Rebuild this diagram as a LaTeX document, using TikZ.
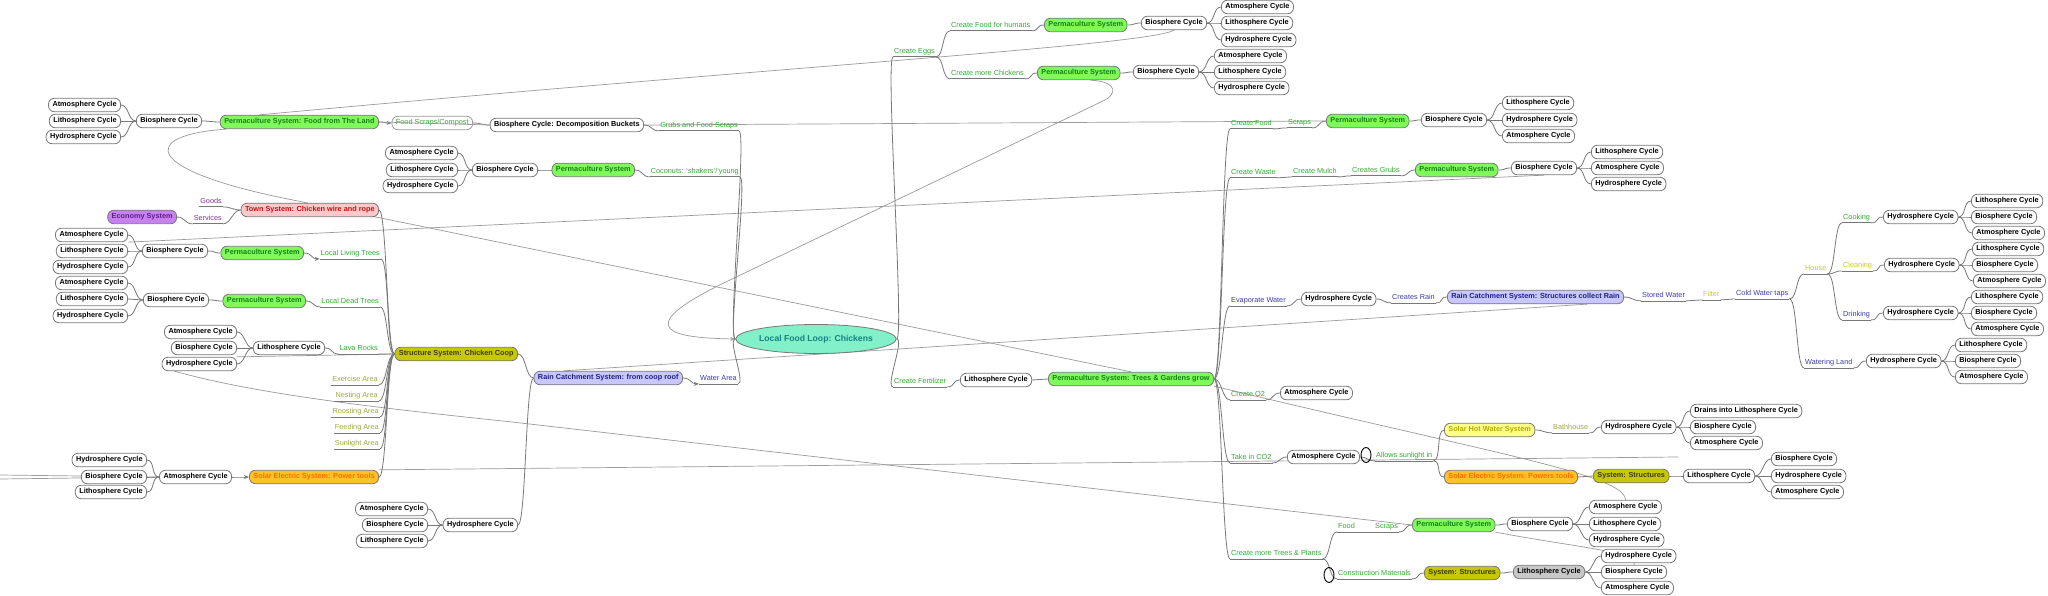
\documentclass[tikz,border=0pt]{standalone}
\usepackage{fontspec}
\setmainfont{Liberation Sans}
\usetikzlibrary{calc,arrows.meta,shapes.geometric}
\pgfdeclarelayer{back}
\pgfdeclarelayer{edges}
\pgfsetlayers{back,edges,main}
\definecolor{edgec}{RGB}{120,120,120}
\definecolor{linkc}{RGB}{155,155,155}
\definecolor{gtext}{RGB}{50,170,50}
\definecolor{btext}{RGB}{60,60,170}
\definecolor{ytext}{RGB}{200,200,40}
\definecolor{otext}{RGB}{160,170,60}
\definecolor{ptext}{RGB}{130,50,150}
\definecolor{permfill}{RGB}{128,250,90}
\definecolor{permtext}{RGB}{20,130,20}
\definecolor{rainfill}{RGB}{200,200,255}
\definecolor{raintext}{RGB}{30,30,140}
\definecolor{econfill}{RGB}{200,130,240}
\definecolor{econtext}{RGB}{100,30,140}
\definecolor{townfill}{RGB}{255,200,200}
\definecolor{towntext}{RGB}{190,20,20}
\definecolor{structfill}{RGB}{200,200,0}
\definecolor{structtext}{RGB}{60,60,0}
\definecolor{solarfill}{RGB}{255,195,40}
\definecolor{solartext}{RGB}{255,110,0}
\definecolor{hotfill}{RGB}{255,255,140}
\definecolor{hottext}{RGB}{180,170,0}
\definecolor{cfill}{RGB}{130,240,200}
\definecolor{ctext}{RGB}{20,130,130}
\definecolor{greyfill}{RGB}{200,200,200}
\newcommand\fsz{\fontsize{7.3}{8.5}\selectfont}
\tikzset{
  box/.style={draw=edgec, fill=white, line width=0.8pt, rounded corners=6pt,
    font=\bfseries\fsz, text=black, inner xsep=4pt, inner ysep=2pt,
    text height=5.4pt, text depth=1.6pt, minimum height=13.5pt},
  perm/.style={box, fill=permfill, text=permtext},
  rain/.style={box, fill=rainfill, text=raintext},
  econ/.style={box, fill=econfill, text=econtext},
  townbox/.style={box, fill=townfill, text=towntext},
  struct/.style={box, fill=structfill, text=structtext},
  solar/.style={box, fill=solarfill, text=solartext},
  hot/.style={box, fill=hotfill, text=hottext},
  greybox/.style={box, fill=greyfill},
  con/.style={draw=edgec, line width=0.8pt},
  xl/.style={draw=linkc, line width=0.7pt},
  lab/.style={font=\fsz, inner xsep=1pt, inner ysep=1.2pt, text height=5.4pt, text depth=1.6pt,
    append after command={(\tikzlastnode.south west) edge[con] (\tikzlastnode.south east)}},
  lgn/.style={lab, text=gtext},
  lbl/.style={lab, text=btext},
  lyl/.style={lab, text=ytext},
  lol/.style={lab, text=otext},
  lpl/.style={lab, text=ptext},
  tor/.style={to path={.. controls +(8,0) and +(-8,0) .. (\tikztotarget)}},
  tol/.style={to path={.. controls +(-8,0) and +(8,0) .. (\tikztotarget)}},
  marker/.style={draw=black, line width=0.9pt, ellipse, minimum width=10pt, minimum height=15pt, inner sep=0pt},
  tip/.style={-{Stealth[length=5pt,width=4pt]}},
  pit/.style={{Stealth[length=5pt,width=4pt]}-},
}
\begin{document}
\begin{tikzpicture}[x=1pt,y=-1pt]
\begin{pgfonlayer}{back}
\fill[white] (0,0) rectangle (2048,596);
\end{pgfonlayer}
\useasboundingbox (0,0) rectangle (2048,596);

% ---------- center ----------
\node[ellipse, draw=edgec, line width=0.8pt, fill=cfill, text=ctext,
  font=\bfseries\fontsize{8.6}{10}\selectfont, minimum width=126pt, minimum height=29pt, inner sep=0pt]
  (c) at (816,339) {Local Food Loop: Chickens};

% ---------- right: eggs ----------
\node[lgn, anchor=west] (eggs) at (893,52) {Create Eggs};
\node[lgn, anchor=west] (foodh) at (950,26) {Create Food for humans};
\node[lgn, anchor=west] (morech) at (950,74) {Create more Chickens};
\node[perm, anchor=west] (p1) at (1044,25) {Permaculture System};
\node[box, anchor=west] (b1) at (1141,23) {Biosphere Cycle};
\node[box, anchor=west] (a1) at (1221,7) {Atmosphere Cycle};
\node[box, anchor=west] (l1) at (1221,23) {Lithosphere Cycle};
\node[box, anchor=west] (h1) at (1221,40) {Hydrosphere Cycle};
\node[perm, anchor=west] (p2) at (1037,73) {Permaculture System};
\node[box, anchor=west] (b2) at (1133,72) {Biosphere Cycle};
\node[box, anchor=west] (a2) at (1214,56) {Atmosphere Cycle};
\node[box, anchor=west] (l2) at (1214,72) {Lithosphere Cycle};
\node[box, anchor=west] (h2) at (1214,88) {Hydrosphere Cycle};

% ---------- right: fertilizer ----------
\node[lgn, anchor=west] (fert) at (893,382) {Create Fertilizer};
\node[box, anchor=west] (lc3) at (960,380) {Lithosphere Cycle};
\node[perm, anchor=west] (tg) at (1048,379) {Permaculture System: Trees \& Gardens grow};

\node[lgn, anchor=west] (cfood) at (1230,124) {Create Food};
\node[lgn, anchor=west] (scraps) at (1287,123) {Scraps};
\node[perm, anchor=west] (p3) at (1326,121) {Permaculture System};
\node[box, anchor=west] (b3) at (1421,120) {Biosphere Cycle};
\node[box, anchor=west] (l3) at (1502,103) {Lithosphere Cycle};
\node[box, anchor=west] (hy3) at (1502,120) {Hydrosphere Cycle};
\node[box, anchor=west] (a3) at (1502,136) {Atmosphere Cycle};

\node[lgn, anchor=west] (cwaste) at (1230,173) {Create Waste};
\node[lgn, anchor=west] (cmulch) at (1292,172) {Create Mulch};
\node[lgn, anchor=west] (cgrubs) at (1351,171) {Creates Grubs};
\node[perm, anchor=west] (p4) at (1415,170) {Permaculture System};
\node[box, anchor=west] (b4) at (1511,168) {Biosphere Cycle};
\node[box, anchor=west] (l4) at (1591,152) {Lithosphere Cycle};
\node[box, anchor=west] (a4) at (1591,168) {Atmosphere Cycle};
\node[box, anchor=west] (h4) at (1591,184) {Hydrosphere Cycle};

\node[lbl, anchor=west] (evap) at (1230,301) {Evaporate Water};
\node[box, anchor=west] (hc5) at (1301,299) {Hydrosphere Cycle};
\node[lbl, anchor=west] (crain) at (1391,298) {Creates Rain};
\node[rain, anchor=west] (rcs) at (1447,297) {Rain Catchment System: Structures collect Rain};
\node[lbl, anchor=west] (stored) at (1641,296) {Stored Water};
\node[lyl, anchor=west] (filter) at (1702,295) {Filter};
\node[lbl, anchor=west] (cold) at (1735,294) {Cold Water taps};
\node[lyl, anchor=west] (house) at (1804,269) {House};
\node[lgn, anchor=west] (cook) at (1842,218) {Cooking};
\node[lyl, anchor=west] (clean) at (1842,266) {Cleaning};
\node[lbl, anchor=west] (drink) at (1842,315) {Drinking};
\node[lbl, anchor=west] (water) at (1804,363) {Watering Land};
\node[box, anchor=west] (hk) at (1883,217) {Hydrosphere Cycle};
\node[box, anchor=west] (lk) at (1971,201) {Lithosphere Cycle};
\node[box, anchor=west] (bk) at (1971,217) {Biosphere Cycle};
\node[box, anchor=west] (ak) at (1972,233) {Atmosphere Cycle};
\node[box, anchor=west] (hcl) at (1884,265) {Hydrosphere Cycle};
\node[box, anchor=west] (lcl2) at (1972,249) {Lithosphere Cycle};
\node[box, anchor=west] (bcl) at (1972,265) {Biosphere Cycle};
\node[box, anchor=west] (acl) at (1973,281) {Atmosphere Cycle};
\node[box, anchor=west] (hd) at (1883,313) {Hydrosphere Cycle};
\node[box, anchor=west] (ld) at (1971,297) {Lithosphere Cycle};
\node[box, anchor=west] (bd) at (1971,313) {Biosphere Cycle};
\node[box, anchor=west] (ad) at (1971,329) {Atmosphere Cycle};
\node[box, anchor=west] (hw) at (1866,361) {Hydrosphere Cycle};
\node[box, anchor=west] (lw) at (1955,345) {Lithosphere Cycle};
\node[box, anchor=west] (bw) at (1955,361) {Biosphere Cycle};
\node[box, anchor=west] (aw) at (1955,377) {Atmosphere Cycle};

\node[lgn, anchor=west] (co2) at (1230,395) {Create O2};
\node[box, anchor=west] (ac6) at (1280,393) {Atmosphere Cycle};

\node[lgn, anchor=west] (tco2) at (1230,458) {Take in CO2};
\node[box, anchor=west] (ac7) at (1287,457) {Atmosphere Cycle};
\node[marker] (m1) at (1366,455) {};
\node[lgn, anchor=west] (sun) at (1375,456) {Allows sunlight in};
\node[hot, anchor=west] (shw) at (1444,430) {Solar Hot Water System};
\node[lol, anchor=west] (bath) at (1552,428) {Bathhouse};
\node[box, anchor=west] (hb) at (1601,427) {Hydrosphere Cycle};
\node[box, anchor=west] (dl) at (1690,411) {Drains into Lithosphere Cycle};
\node[box, anchor=west] (bb) at (1690,427) {Biosphere Cycle};
\node[box, anchor=west] (ab) at (1690,443) {Atmosphere Cycle};
\node[solar, anchor=west] (ses2) at (1444,477) {Solar Electric System: Powers tools};
\node[struct, anchor=west] (ss1) at (1593,476) {System: Structures};
\node[box, anchor=west] (ls) at (1683,476) {Lithosphere Cycle};
\node[box, anchor=west] (bs) at (1771,459) {Biosphere Cycle};
\node[box, anchor=west] (hs) at (1771,476) {Hydrosphere Cycle};
\node[box, anchor=west] (asx) at (1771,492) {Atmosphere Cycle};

\node[lgn, anchor=west] (cmore) at (1230,554) {Create more Trees \& Plants};
\node[lgn, anchor=west] (food) at (1337,527) {Food};
\node[lgn, anchor=west] (scr2) at (1374,527) {Scraps};
\node[perm, anchor=west] (p5) at (1412,525) {Permaculture System};
\node[box, anchor=west] (b5) at (1507,524) {Biosphere Cycle};
\node[box, anchor=west] (a5) at (1589,507) {Atmosphere Cycle};
\node[box, anchor=west] (l5) at (1589,524) {Lithosphere Cycle};
\node[box, anchor=west] (h5) at (1589,540) {Hydrosphere Cycle};
\node[marker] (m2) at (1329,575) {};
\node[lgn, anchor=west] (constr) at (1337,574) {Construction Materials};
\node[struct, anchor=west] (ss2) at (1424,573) {System: Structures};
\node[greybox, anchor=west] (lgr) at (1513,572) {Lithosphere Cycle};
\node[box, anchor=west] (hg) at (1601,556) {Hydrosphere Cycle};
\node[box, anchor=west] (bgx) at (1601,572) {Biosphere Cycle};
\node[box, anchor=west] (ag) at (1601,588) {Atmosphere Cycle};

% ---------- left side ----------
\node[lgn, anchor=east] (grubs) at (739,126) {Grubs and Food Scraps};
\node[box, anchor=east] (decomp) at (644,125) {Biosphere Cycle: Decomposition Buckets};
\node[box, anchor=east, font=\fsz, text=gtext, draw=linkc] (fsc) at (473,123) {Food Scraps/Compost};
\node[perm, anchor=east] (ffl) at (379,122) {Permaculture System: Food from The Land};
\node[box, anchor=east] (bL1) at (202,121) {Biosphere Cycle};
\node[box, anchor=east] (aL1) at (121,105) {Atmosphere Cycle};
\node[box, anchor=east] (lL1) at (121,121) {Lithosphere Cycle};
\node[box, anchor=east] (hL1) at (121,137) {Hydrosphere Cycle};

\node[lgn, anchor=east] (coco) at (740,172) {Coconuts: `shakers'/`young};
\node[perm, anchor=east] (pc) at (635,170) {Permaculture System};
\node[box, anchor=east] (bc) at (538,170) {Biosphere Cycle};
\node[box, anchor=east] (ac) at (458,153) {Atmosphere Cycle};
\node[box, anchor=east] (lcn) at (458,170) {Lithosphere Cycle};
\node[box, anchor=east] (hcn) at (458,186) {Hydrosphere Cycle};

\node[lbl, anchor=east] (warea) at (738,379) {Water Area};
\node[rain, anchor=east] (rcr) at (683,378) {Rain Catchment System: from coop roof};
\node[struct, anchor=east] (ssc) at (518,354) {Structure System: Chicken Coop};
\node[box, anchor=east] (hr) at (518,525) {Hydrosphere Cycle};
\node[box, anchor=east] (ar) at (428,509) {Atmosphere Cycle};
\node[box, anchor=east] (br) at (428,525) {Biosphere Cycle};
\node[box, anchor=east] (lr) at (428,541) {Lithosphere Cycle};

\node[townbox, anchor=east] (town) at (379,210) {Town System: Chicken wire and rope};
\node[lpl, anchor=east] (goods) at (223,202) {Goods};
\node[lpl, anchor=east] (services) at (223,219) {Services};
\node[econ, anchor=east] (econ) at (177,217) {Economy System};

\node[lgn, anchor=east] (llt) at (381,254) {Local Living Trees};
\node[perm, anchor=east] (pl1) at (304,253) {Permaculture System};
\node[box, anchor=east] (bl1) at (208,251) {Biosphere Cycle};
\node[box, anchor=east] (al1) at (128,235) {Atmosphere Cycle};
\node[box, anchor=east] (ll1) at (128,251) {Lithosphere Cycle};
\node[box, anchor=east] (hl1) at (128,267) {Hydrosphere Cycle};

\node[lgn, anchor=east] (ldt) at (380,302) {Local Dead Trees};
\node[perm, anchor=east] (pl2) at (306,301) {Permaculture System};
\node[box, anchor=east] (bl2) at (209,300) {Biosphere Cycle};
\node[box, anchor=east] (al2) at (128,283) {Atmosphere Cycle};
\node[box, anchor=east] (ll2) at (128,299) {Lithosphere Cycle};
\node[box, anchor=east] (hl2) at (128,316) {Hydrosphere Cycle};

\node[lgn, anchor=east] (lava) at (379,349) {Lava Rocks};
\node[box, anchor=east] (lcl) at (325,348) {Lithosphere Cycle};
\node[box, anchor=east] (alv) at (237,332) {Atmosphere Cycle};
\node[box, anchor=east] (blv) at (237,348) {Biosphere Cycle};
\node[box, anchor=east] (hlv) at (237,364) {Hydrosphere Cycle};

\node[lol, anchor=east] (exer) at (379,380) {Exercise Area};
\node[lol, anchor=east] (nest) at (379,396) {Nesting Area};
\node[lol, anchor=east] (roost) at (380,412) {Roosting Area};
\node[lol, anchor=east] (feed) at (380,428) {Feeding Area};
\node[lol, anchor=east] (sun2) at (380,444) {Sunlight Area};

\node[solar, anchor=east] (sesl) at (379,477) {Solar Electric System: Power tools};
\node[box, anchor=east] (atm) at (232,477) {Atmosphere Cycle};
\node[box, anchor=east] (hsl) at (147,460) {Hydrosphere Cycle};
\node[box, anchor=east] (bsl) at (147,477) {Biosphere Cycle};
\node[box, anchor=east] (lsl) at (147,492) {Lithosphere Cycle};

\coordinate (le1) at (0,475);
\coordinate (le2) at (0,479);
\coordinate (x6end) at (1678,457);

% strike-through link over the compost node
\draw[xl] (ffl.east) -- (decomp.west);

% ---------- connectors ----------
\begin{pgfonlayer}{edges}
% cross links
\draw[xl] ($(ffl.north)+(-40,0)$) .. controls (800,65) and (1150,45) .. (b1.south);
\draw[xl] ($(ffl.south west)+(6,0)$) .. controls (140,135) and (140,170) .. (293,200) -- (tg.north);
\draw[xl] (al1.south east) -- (b4.south);
\draw[xl] ($(hlv.south)+(-25,0)$) .. controls (260,395) and (380,408) .. (512,422) -- (p5.west);
\draw[xl] (hlv.north east) -- (ssc.west);
\draw[xl] (sesl.north east) -- (x6end);
\draw[xl] (tg.south east) .. controls (1500,455) and (1625,475) .. (a5.north);
\draw[xl] ($(rcr.north west)+(30,0)$) -- ($(rcs.south east)+(-37,0)$);
\draw[xl,tip] ($(p2.south)+(12,0)$) .. controls (1120,82) and (1115,95) .. (1105,100) -- (730,280) .. controls (620,332) and (680,338) .. (c.west);
\draw[xl] (decomp.east) -- (p3.west);
\draw[xl] (le1) -- (atm.west);
\draw[xl] (le2) -- (atm.west);
\draw[xl] (p5.south east) .. controls (1580,548) and (1640,552) .. (bgx.north);

% right tree
\draw[con] (c.east) to[tor] (eggs.south west);
\draw[con] (c.east) to[tor] (fert.south west);
\draw[con] (eggs.south east) to[tor] (foodh.south west);
\draw[con] (eggs.south east) to[tor] (morech.south west);
\draw[con] (foodh.south east) to[tor] (p1.west);
\draw[con] (morech.south east) to[tor] (p2.west);
\draw[con] (p1.east) to[tor] (b1.west);
\foreach \t in {a1,l1,h1} \draw[con] (b1.east) to[tor] (\t.west);
\draw[con] (p2.east) to[tor] (b2.west);
\foreach \t in {a2,l2,h2} \draw[con] (b2.east) to[tor] (\t.west);
\draw[con] (fert.south east) to[tor] (lc3.west);
\draw[con] (lc3.east) to[tor] (tg.west);
\foreach \t in {cfood,cwaste,evap,co2,tco2,cmore} \draw[con] (tg.east) to[tor] (\t.south west);
\draw[con] (cfood.south east) to[tor] (scraps.south west);
\draw[con] (scraps.south east) to[tor] (p3.west);
\draw[con] (p3.east) to[tor] (b3.west);
\foreach \t in {l3,hy3,a3} \draw[con] (b3.east) to[tor] (\t.west);
\draw[con] (cwaste.south east) to[tor] (cmulch.south west);
\draw[con] (cmulch.south east) to[tor] (cgrubs.south west);
\draw[con] (cgrubs.south east) to[tor] (p4.west);
\draw[con] (p4.east) to[tor] (b4.west);
\foreach \t in {l4,a4,h4} \draw[con] (b4.east) to[tor] (\t.west);
\draw[con] (evap.south east) to[tor] (hc5.west);
\draw[con] (hc5.east) to[tor] (crain.south west);
\draw[con] (crain.south east) to[tor] (rcs.west);
\draw[con] (rcs.east) to[tor] (stored.south west);
\draw[con] (stored.south east) to[tor] (filter.south west);
\draw[con] (filter.south east) to[tor] (cold.south west);
\draw[con] (cold.south east) to[tor] (house.south west);
\draw[con] (cold.south east) to[tor] (water.south west);
\foreach \t in {cook,clean,drink} \draw[con] (house.south east) to[tor] (\t.south west);
\draw[con] (cook.south east) to[tor] (hk.west);
\foreach \t in {lk,bk,ak} \draw[con] (hk.east) to[tor] (\t.west);
\draw[con] (clean.south east) to[tor] (hcl.west);
\foreach \t in {lcl2,bcl,acl} \draw[con] (hcl.east) to[tor] (\t.west);
\draw[con] (drink.south east) to[tor] (hd.west);
\foreach \t in {ld,bd,ad} \draw[con] (hd.east) to[tor] (\t.west);
\draw[con] (water.south east) to[tor] (hw.west);
\foreach \t in {lw,bw,aw} \draw[con] (hw.east) to[tor] (\t.west);
\draw[con] (co2.south east) to[tor] (ac6.west);
\draw[con] (tco2.south east) to[tor] (ac7.west);
\draw[con] (ac7.east) to[tor] (sun.south west);
\draw[con] (sun.south east) to[tor] (shw.west);
\draw[con] (sun.south east) to[tor] (ses2.west);
\draw[con] (shw.east) to[tor] (bath.south west);
\draw[con] (bath.south east) to[tor] (hb.west);
\foreach \t in {dl,bb,ab} \draw[con] (hb.east) to[tor] (\t.west);
\draw[con] (ses2.east) to[tor] (ss1.west);
\draw[con] (ss1.east) to[tor] (ls.west);
\foreach \t in {bs,hs,asx} \draw[con] (ls.east) to[tor] (\t.west);
\draw[con] (cmore.south east) to[tor] (food.south west);
\draw[con] (cmore.south east) to[tor] (constr.south west);
\draw[con] (food.south east) to[tor] (scr2.south west);
\draw[con] (scr2.south east) to[tor] (p5.west);
\draw[con] (p5.east) to[tor] (b5.west);
\foreach \t in {a5,l5,h5} \draw[con] (b5.east) to[tor] (\t.west);
\draw[con] (constr.south east) to[tor] (ss2.west);
\draw[con] (ss2.east) to[tor] (lgr.west);
\foreach \t in {hg,bgx,ag} \draw[con] (lgr.east) to[tor] (\t.west);

% left tree
\foreach \t in {grubs,coco,warea} \draw[con] (c.west) to[tol] (\t.south east);
\draw[con] (grubs.south west) to[tol] (decomp.east);
\draw[con] (decomp.west) to[tol] (fsc.east);
\draw[con,pit] (fsc.west) to[tol] (ffl.east);
\draw[con] (ffl.west) to[tol] (bL1.east);
\foreach \t in {aL1,lL1,hL1} \draw[con] (bL1.west) to[tol] (\t.east);
\draw[con] (coco.south west) to[tol] (pc.east);
\draw[con] (pc.west) to[tol] (bc.east);
\foreach \t in {ac,lcn,hcn} \draw[con] (bc.west) to[tol] (\t.east);
\draw[con,pit] (warea.south west) to[tol] (rcr.east);
\draw[con] (rcr.west) to[tol] (ssc.east);
\draw[con] (rcr.west) to[tol] (hr.east);
\foreach \t in {ar,br,lr} \draw[con] (hr.west) to[tol] (\t.east);
\draw[con] (ssc.west) to[tol] (town.east);
\foreach \t in {llt,ldt,lava,exer,nest,roost,feed,sun2} \draw[con] (ssc.west) to[tol] (\t.south east);
\draw[con] (ssc.west) to[tol] (sesl.east);
\draw[con] (town.west) to[tol] (goods.south east);
\draw[con] (town.west) to[tol] (services.south east);
\draw[con] (services.south west) to[tol] (econ.east);
\draw[con,pit] (llt.south west) to[tol] (pl1.east);
\draw[con] (pl1.west) to[tol] (bl1.east);
\foreach \t in {al1,ll1,hl1} \draw[con] (bl1.west) to[tol] (\t.east);
\draw[con] (ldt.south west) to[tol] (pl2.east);
\draw[con] (pl2.west) to[tol] (bl2.east);
\foreach \t in {al2,ll2,hl2} \draw[con] (bl2.west) to[tol] (\t.east);
\draw[con] (lava.south west) to[tol] (lcl.east);
\foreach \t in {alv,blv,hlv} \draw[con] (lcl.west) to[tol] (\t.east);
\draw[con,pit] (sesl.west) to[tol] (atm.east);
\foreach \t in {hsl,bsl,lsl} \draw[con] (atm.west) to[tol] (\t.east);
\end{pgfonlayer}
\end{tikzpicture}
\end{document}
